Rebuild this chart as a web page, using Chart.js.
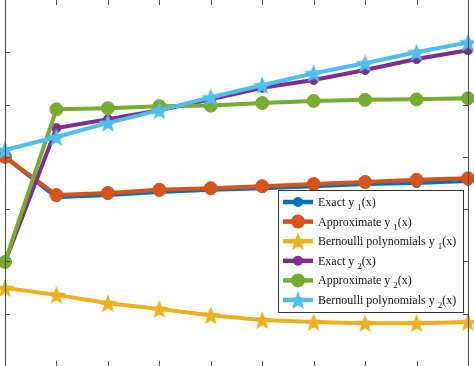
<!DOCTYPE html>
<html>
<head>
<meta charset="utf-8">
<script src="https://cdn.jsdelivr.net/npm/chart.js@4"></script>
<style>
  html, body { margin: 0; padding: 0; background: #fff; }
  #wrap { width: 474px; height: 366px; }
</style>
</head>
<body>
<div id="wrap"><canvas id="myChart"></canvas></div>
<script>
// x positions (one point per tick)
const xValues = [0, 1, 2, 3, 4, 5, 6, 7, 8, 9];
const yTicks = [1, 2, 3, 4, 5, 6];

// series values
const exactY1 = [4.0, 3.23, 3.27, 3.33, 3.37, 3.40, 3.44, 3.48, 3.50, 3.54];
const approxY1 = [4.0, 3.27, 3.31, 3.37, 3.40, 3.44, 3.48, 3.52, 3.56, 3.59];
const bernY1 = [1.49, 1.36, 1.20, 1.09, 0.97, 0.88, 0.84, 0.82, 0.82, 0.84];
const exactY2 = [1.99, 4.55, 4.72, 4.89, 5.10, 5.32, 5.47, 5.66, 5.87, 6.04];
const approxY2 = [1.99, 4.91, 4.93, 4.97, 4.98, 5.03, 5.07, 5.09, 5.10, 5.12];
const bernY2 = [4.13, 4.38, 4.65, 4.89, 5.14, 5.37, 5.60, 5.79, 6.00, 6.19];

const names = ['Exact y', 'Approximate y', 'Bernoulli polynomials y', 'Exact y', 'Approximate y', 'Bernoulli polynomials y'];
const subs = ['1', '1', '1', '2', '2', '2'];
const colors = ['#0072BD', '#D95319', '#EDB120', '#7E2F8E', '#77AC30', '#4DBEEE'];

// filled five point star as a point style
function makeStar(color, r) {
  const c = document.createElement('canvas');
  const s = Math.ceil(r * 2 + 2);
  c.width = s; c.height = s;
  const g = c.getContext('2d');
  g.fillStyle = color;
  g.beginPath();
  for (let i = 0; i < 10; i++) {
    const rad = i % 2 === 0 ? r : r * 0.42;
    const a = -Math.PI / 2 + i * Math.PI / 5;
    const px = s / 2 + rad * Math.cos(a);
    const py = s / 2 + 1 + rad * Math.sin(a);
    if (i === 0) g.moveTo(px, py); else g.lineTo(px, py);
  }
  g.closePath();
  g.fill();
  return c;
}

const markers = ['circle', 'circle', makeStar(colors[2], 10), 'circle', 'circle', makeStar(colors[5], 10)];
const radii = [4.5, 6.5, 10, 4.5, 6.5, 10];
const seriesData = [exactY1, approxY1, bernY1, exactY2, approxY2, bernY2];

const datasets = seriesData.map((d, i) => ({
  label: names[i] + ' ' + subs[i] + '(x)',
  data: d.map((v, k) => ({ x: xValues[k], y: v })),
  borderColor: colors[i],
  backgroundColor: colors[i],
  borderWidth: 4,
  pointStyle: markers[i],
  pointRadius: radii[i],
  pointBorderWidth: 1,
  pointBorderColor: colors[i],
  pointBackgroundColor: colors[i],
  tension: 0,
  clip: false,
  order: 6 - i
}));

// MATLAB-like box with inward ticks and legend
const boxPlugin = {
  id: 'boxPlugin',
  afterDraw(chart) {
    const g = chart.ctx;
    const a = chart.chartArea;
    const xs = chart.scales.x, ys = chart.scales.y;
    g.save();
    g.strokeStyle = '#4a4a4a';
    g.lineWidth = 1;
    g.beginPath();
    g.moveTo(a.left + 0.5, a.top); g.lineTo(a.left + 0.5, a.bottom);
    g.moveTo(a.right + 0.5, a.top); g.lineTo(a.right + 0.5, a.bottom);
    xValues.forEach((v) => {
      const px = Math.round(xs.getPixelForValue(v)) + 0.5;
      g.moveTo(px, a.top); g.lineTo(px, a.top + 5);
      g.moveTo(px, a.bottom); g.lineTo(px, a.bottom - 5);
    });
    yTicks.forEach((v) => {
      const py = Math.round(ys.getPixelForValue(v)) + 0.5;
      g.moveTo(a.left, py); g.lineTo(a.left + 5, py);
      g.moveTo(a.right, py); g.lineTo(a.right - 5, py);
    });
    g.stroke();

    // legend
    const lx = 278, ly = 190, lw = 185, lh = 122;
    g.fillStyle = '#fff';
    g.fillRect(lx, ly, lw, lh);
    g.strokeStyle = '#333';
    g.strokeRect(lx + 0.5, ly + 0.5, lw, lh);
    names.forEach((n, i) => {
      const cy = ly + 12 + i * 19.6;
      g.strokeStyle = colors[i];
      g.lineWidth = 4.5;
      g.beginPath();
      g.moveTo(lx + 5, cy); g.lineTo(lx + 35, cy);
      g.stroke();
      if (typeof markers[i] === 'string') {
        g.fillStyle = colors[i];
        g.beginPath();
        g.arc(lx + 20, cy, radii[i] + 0.5, 0, Math.PI * 2);
        g.fill();
      } else {
        const m = markers[i];
        g.drawImage(m, lx + 20 - m.width / 2, cy - m.height / 2);
      }
      g.fillStyle = '#111';
      g.textBaseline = 'alphabetic';
      g.font = '12px "Liberation Serif", serif';
      let tx = lx + 40;
      const base = cy + 4;
      g.fillText(n, tx, base);
      tx += g.measureText(n).width + 3;
      g.font = '9px "Liberation Serif", serif';
      g.fillText(subs[i], tx, base + 4);
      tx += g.measureText(subs[i]).width;
      g.font = '12px "Liberation Serif", serif';
      g.fillText('(x)', tx, base);
    });
    g.restore();
  }
};

new Chart(document.getElementById('myChart'), {
  type: 'line',
  data: {
    datasets: datasets
  },
  options: {
    responsive: true,
    maintainAspectRatio: false,
    animation: false,
    layout: {
      autoPadding: false,
      padding: { left: 5, right: 6, top: 0, bottom: 0 }
    },
    plugins: {
      legend: { display: false },
      tooltip: { enabled: false }
    },
    scales: {
      x: { type: 'linear', min: 0, max: 9, display: false },
      y: { min: 0, max: 7, display: false }
    }
  },
  plugins: [boxPlugin]
});
</script>
</body>
</html>
